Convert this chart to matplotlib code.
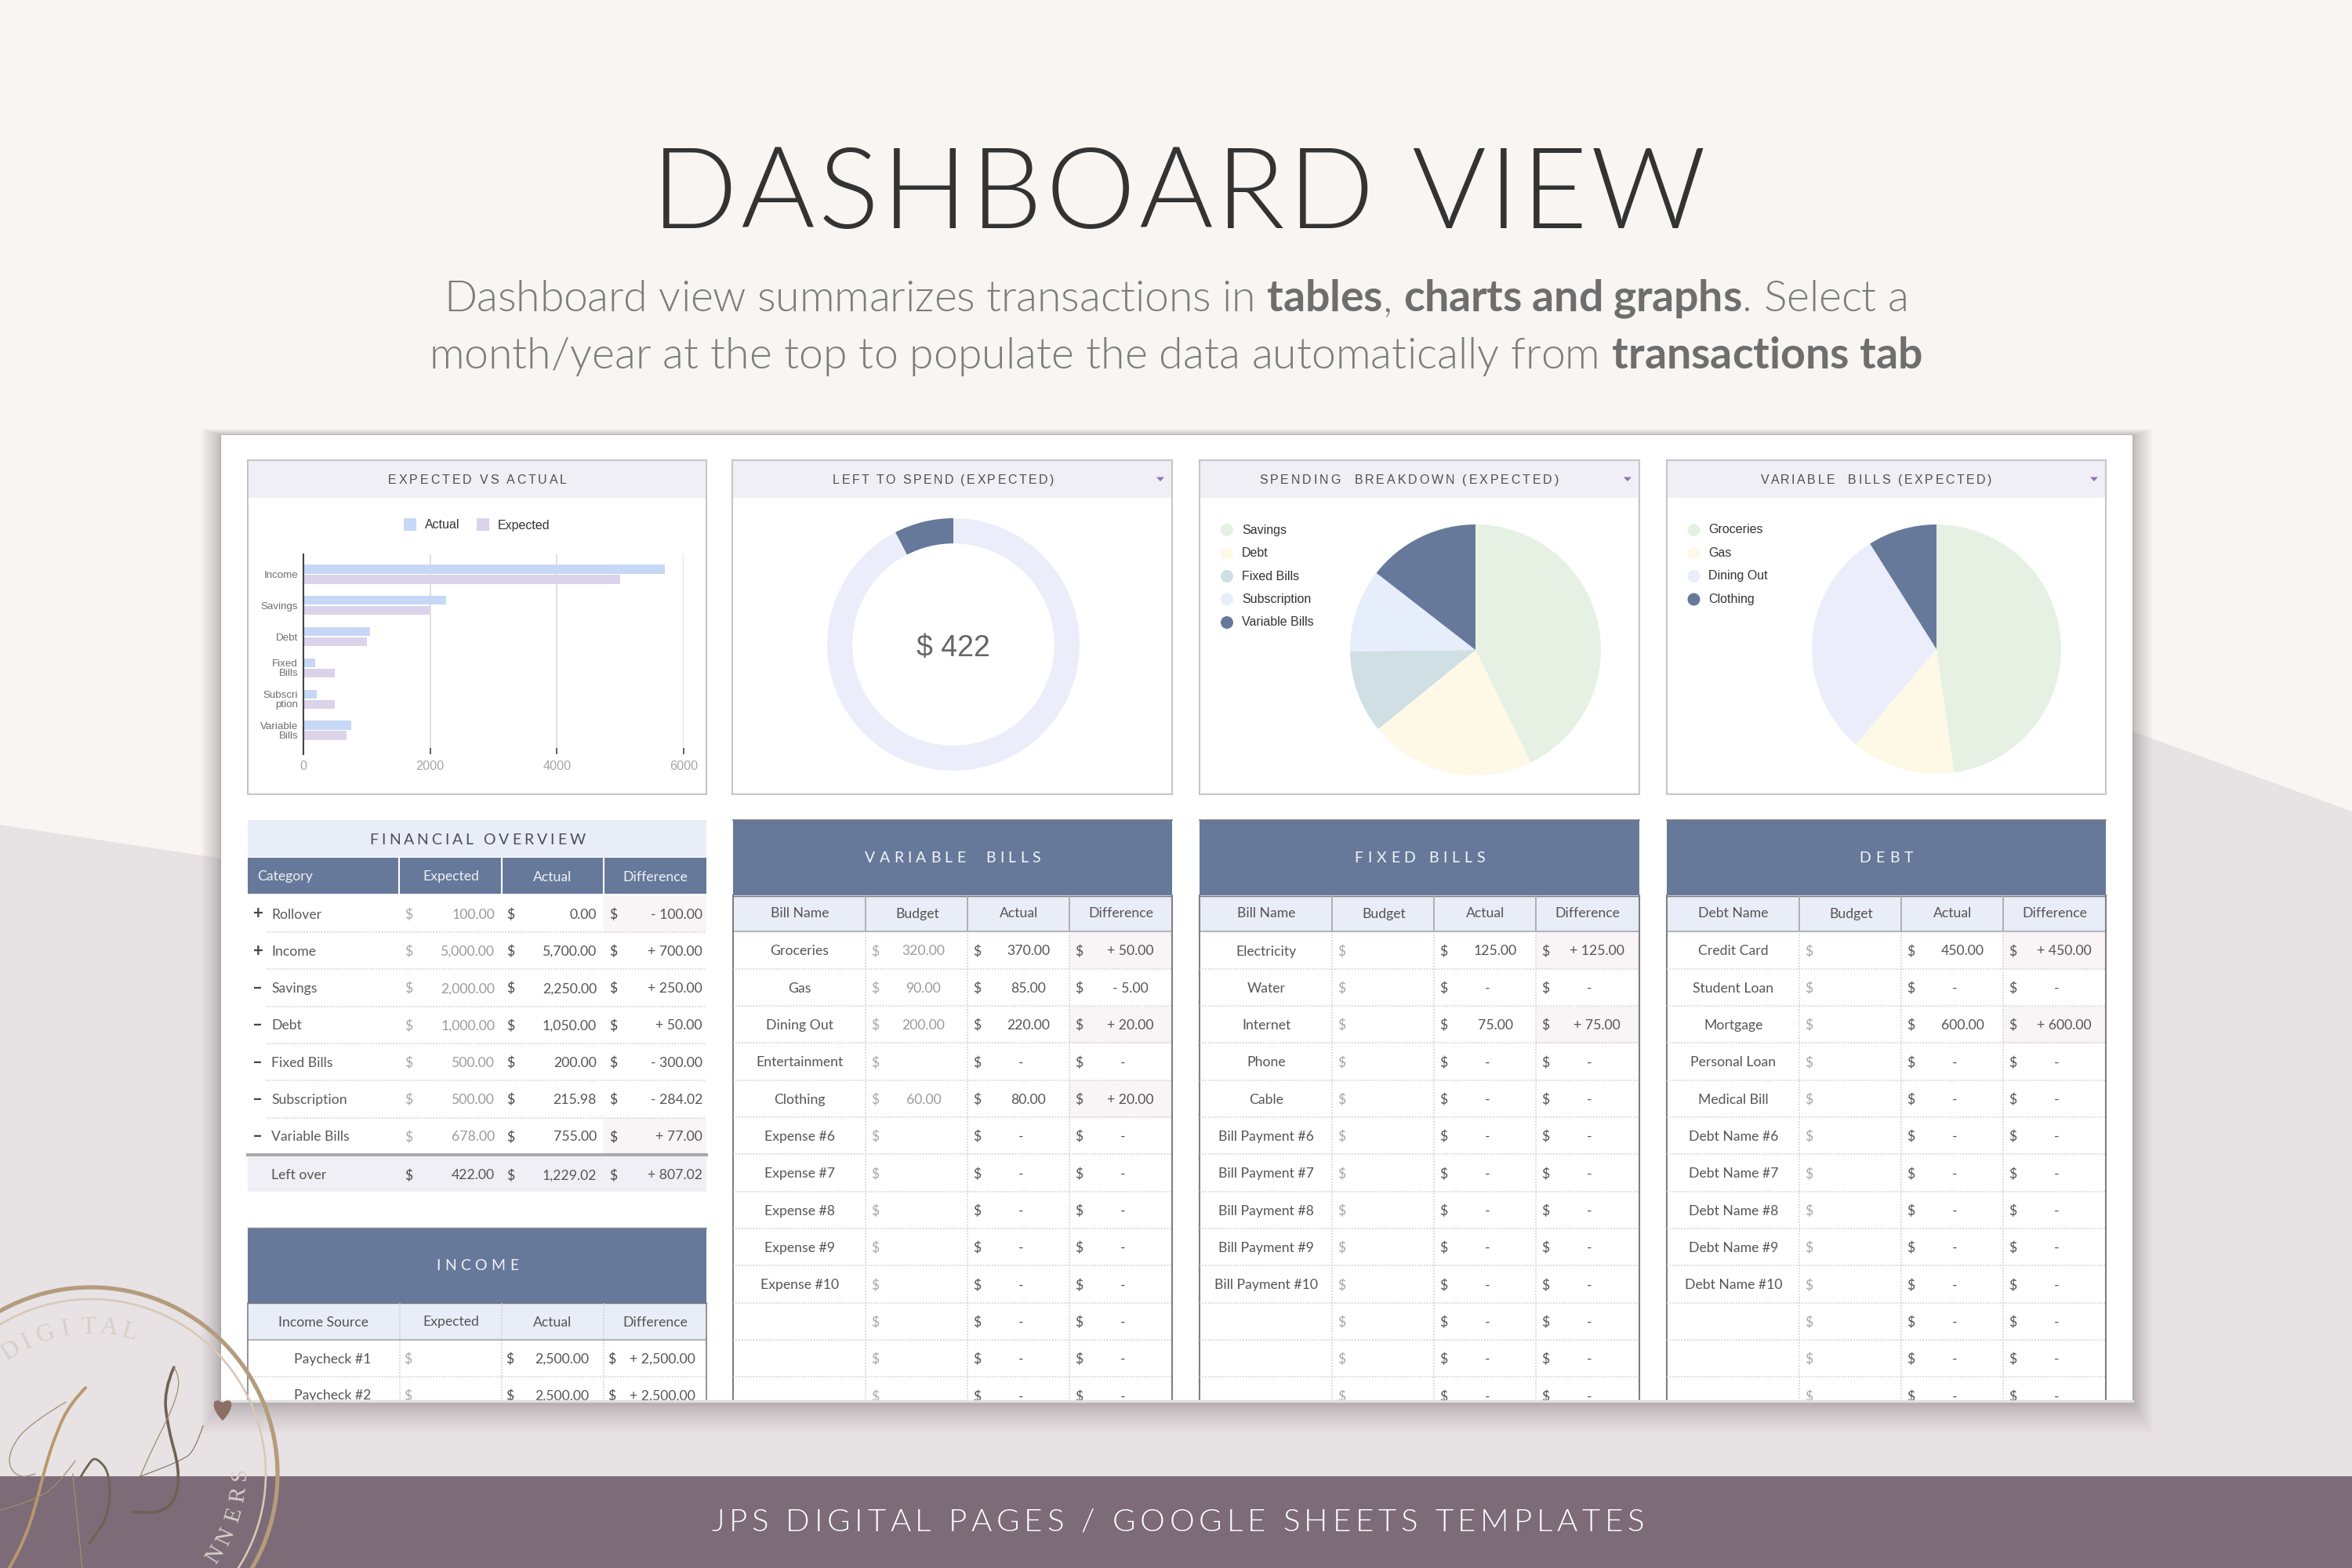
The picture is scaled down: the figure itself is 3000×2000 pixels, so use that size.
import numpy as np
import matplotlib
matplotlib.use("Agg")
import matplotlib.pyplot as plt
from matplotlib.patches import Rectangle, Polygon, Circle, PathPatch
from matplotlib.path import Path
from matplotlib.text import Text
from matplotlib.transforms import IdentityTransform, Bbox
from matplotlib.font_manager import FontProperties

# ---------- data ----------
BAR_CATEGORIES = ["Income", "Savings", "Debt", "Fixed\nBills", "Subscri\nption", "Variable\nBills"]
BAR_ACTUAL = [5700, 2250, 1050, 190, 215.98, 755]
BAR_EXPECTED = [5000, 2000, 1000, 500, 500, 678]
BAR_TICKS = [0, 2000, 4000, 6000]

DONUT_VALUES = [422, 5130]
SPEND_LABELS = ["Savings", "Debt", "Fixed Bills", "Subscription", "Variable Bills"]
SPEND_VALUES = [2000, 1000, 500, 500, 678]
VAR_LABELS = ["Groceries", "Gas", "Dining Out", "Clothing"]
VAR_VALUES = [320, 90, 200, 60]

FO_SIGNS = ["+", "+", "–", "–", "–", "–", "–"]
FO_CATS = ["Rollover", "Income", "Savings", "Debt", "Fixed Bills", "Subscription", "Variable Bills"]
FO_EXPECTED = ["100.00", "5,000.00", "2,000.00", "1,000.00", "500.00", "500.00", "678.00"]
FO_ACTUAL = ["0.00", "5,700.00", "2,250.00", "1,050.00", "200.00", "215.98", "755.00"]
FO_DIFF = ["- 100.00", "+ 700.00", "+ 250.00", "+ 50.00", "- 300.00", "- 284.02", "+ 77.00"]
FO_PINK = [True, False, False, False, False, False, True]
FO_TOTAL = ["Left over", "422.00", "1,229.02", "+ 807.02"]

INC_NAMES = ["Paycheck #1", "Paycheck #2"]
INC_ACTUAL = ["2,500.00", "2,500.00"]
INC_DIFF = ["+ 2,500.00", "+ 2,500.00"]

VB_NAMES = ["Groceries", "Gas", "Dining Out", "Entertainment", "Clothing", "Expense #6", "Expense #7",
            "Expense #8", "Expense #9", "Expense #10", "", "", ""]
VB_BUDGET = ["320.00", "90.00", "200.00", "", "60.00", "", "", "", "", "", "", "", ""]
VB_ACTUAL = ["370.00", "85.00", "220.00", "-", "80.00", "-", "-", "-", "-", "-", "-", "-", "-"]
VB_DIFF = ["+ 50.00", "- 5.00", "+ 20.00", "-", "+ 20.00", "-", "-", "-", "-", "-", "-", "-", "-"]

FB_NAMES = ["Electricity", "Water", "Internet", "Phone", "Cable", "Bill Payment #6", "Bill Payment #7",
            "Bill Payment #8", "Bill Payment #9", "Bill Payment #10", "", "", ""]
FB_BUDGET = [""] * 13
FB_ACTUAL = ["125.00", "-", "75.00", "-", "-", "-", "-", "-", "-", "-", "-", "-", "-"]
FB_DIFF = ["+ 125.00", "-", "+ 75.00", "-", "-", "-", "-", "-", "-", "-", "-", "-", "-"]

DB_NAMES = ["Credit Card", "Student Loan", "Mortgage", "Personal Loan", "Medical Bill", "Debt Name #6",
            "Debt Name #7", "Debt Name #8", "Debt Name #9", "Debt Name #10", "", "", ""]
DB_BUDGET = [""] * 13
DB_ACTUAL = ["450.00", "-", "600.00", "-", "-", "-", "-", "-", "-", "-", "-", "-", "-"]
DB_DIFF = ["+ 450.00", "-", "+ 600.00", "-", "-", "-", "-", "-", "-", "-", "-", "-", "-"]

# ---------- style ----------
UI = "Lato"
ARIAL = "Liberation Sans"
NAVY = "#67799a"
PANEL_HEAD = "#f0eff6"
LIGHT_HEAD = "#e9edf8"
PINK = "#f9f4f5"
GREEN, CREAM, TEAL, ICE, LILAC = "#e6f1e4", "#fef9e6", "#cfdfe3", "#e7eefb", "#ebeefa"

plt.rcParams["font.family"] = [UI, "DejaVu Sans"]
W, H = 3000, 2000
fig = plt.figure(figsize=(30, 20), dpi=100, facecolor="#f8f5f2")


class Tracked(Text):
    """Text drawn with letter spacing so that it fills a given width."""

    def __init__(self, x, y, s, width, anchor="center", **kw):
        super().__init__(x, y, s, **kw)
        self._target = width
        self._anchor = anchor

    def _origin(self, renderer):
        fp = self.get_fontproperties()
        s = self.get_text()
        mw = lambda t: renderer.get_text_width_height_descent(t, fp, False)[0]
        bar = mw("|")
        pref = [mw(s[:i] + "|") - bar if i else 0 for i in range(len(s))]
        full = mw(s + "|") - bar
        track = (self._target - full) / max(1, len(s) - 1)
        px, py = self.get_transform().transform(self.get_unitless_position())
        if self._anchor == "center":
            px -= self._target / 2
        return px, py, pref, track

    def draw(self, renderer):
        px, py, pref, track = self._origin(renderer)
        for i, ch in enumerate(self.get_text()):
            if ch == " ":
                continue
            t = Text(px + pref[i] + i * track, py, ch, fontproperties=self.get_fontproperties(),
                     color=self.get_color(), ha="left", va="baseline",
                     transform=IdentityTransform())
            t.set_figure(self.figure)
            t.draw(renderer)

    def get_window_extent(self, renderer=None, dpi=None):
        box = super().get_window_extent(renderer, dpi)
        renderer = renderer or self.figure.canvas.get_renderer()
        px, py, _, _ = self._origin(renderer)
        return Bbox([[px, box.y0], [px + self._target, box.y1]])


def pxaxes(x0, y0, x1, y1, z=2):
    a = fig.add_axes([x0 / W, 1 - y1 / H, (x1 - x0) / W, (y1 - y0) / H], zorder=z)
    a.patch.set_alpha(0)
    return a


bg = fig.add_axes([0, 0, 1, 1], zorder=0)
bg.set_xlim(0, W)
bg.set_ylim(H, 0)
bg.axis("off")


def rect(x0, y0, x1, y1, color, z=1, **kw):
    r = Rectangle((x0, y0), x1 - x0, y1 - y0, facecolor=color, edgecolor="none", zorder=z, **kw)
    bg.add_patch(r)
    return r


def tracked(x, y, s, width, size, color, family=UI, weight="normal", anchor="center", z=6):
    t = Tracked(x, y, s, width, anchor=anchor, color=color, va="baseline",
                fontproperties=FontProperties(family=family, weight=weight, size=size),
                transform=bg.transData, zorder=z)
    bg.add_artist(t)
    return t


# ---------- background ----------
bg.add_patch(Polygon([(0, 1052), (282, 1095), (1500, 780), (2720, 933), (3000, 1035), (3000, 2000), (0, 2000)],
                     facecolor="#e7e2e4", edgecolor="none", zorder=0.5))
rect(0, 1883, W, H, "#7d6b77", z=0.6)

NSH = 32
for i in range(NSH):
    t = (1 - i / NSH) ** 1.9
    bg.add_patch(Rectangle((282 - 26 * t, 555 - 8 * t), 2438 + 52 * t, 1233 + 8 * t + 40 * t,
                           facecolor="#3a3438", edgecolor="none", alpha=0.012, zorder=0.8))
card = rect(282, 555, 2720, 1788, "white", z=1)
bg.plot([282, 2720], [1787, 1787], color="#e0e0e0", lw=2.5, zorder=5)

tracked(1503, 291, "DASHBOARD VIEW", 1345, 104, "#333333", weight=300)


def mixed_line(segs, x0, x1, y, size):
    rend = fig.canvas.get_renderer()
    widths = []
    for s, bold in segs:
        fp = FontProperties(family=UI, weight=700 if bold else 300, size=size)
        m = lambda t: rend.get_text_width_height_descent(t, fp, False)[0]
        widths.append(m(s + "|") - m("|"))
    n = sum(len(s) for s, _ in segs)
    track = ((x1 - x0) - sum(widths)) / n
    x = x0
    for (s, bold), w in zip(segs, widths):
        tw = w + track * len(s)
        tracked(x, y, s, tw, size, "#6e6e6e" if bold else "#7c7c7c", weight=700 if bold else 300, anchor="left")
        x += tw


mixed_line([("Dashboard view summarizes transactions in ", False), ("tables", True), (", ", False),
            ("charts and graphs", True), (". Select a", False)], 566, 2434, 397, 40)
mixed_line([("month/year at the top to populate the data automatically from ", False),
            ("transactions tab", True)], 547, 2452, 470, 40)

tracked(1502, 1953, "JPS DIGITAL PAGES / GOOGLE SHEETS TEMPLATES", 1190, 29, "#ffffff", weight=300)


# ---------- chart panels ----------
def panel(x0, x1, title, tw, tx, arrow=True):
    rect(x0, 587, x1, 635, PANEL_HEAD, z=1.2)
    bg.add_patch(Rectangle((x0, 587), x1 - x0, 426, facecolor="none", edgecolor="#c6c6c6", lw=1.5, zorder=1.5))
    tracked(tx, 617, title, tw, 11.5, "#4e4e52", family=ARIAL)
    if arrow:
        ax_, ay_ = x1 - 15, 611
        bg.add_patch(Polygon([(ax_ - 5, ay_ - 2.5), (ax_ + 5, ay_ - 2.5), (ax_, ay_ + 3)], facecolor="#8a75b0",
                             edgecolor="none", zorder=2))


panel(316, 901, "EXPECTED VS ACTUAL", 228, 609, arrow=False)
panel(934, 1495, "LEFT TO SPEND (EXPECTED)", 282, 1203)
panel(1530, 2091, "SPENDING  BREAKDOWN (EXPECTED)", 382, 1797)
panel(2126, 2686, "VARIABLE  BILLS (EXPECTED)", 295, 2393)

# bar chart
bax = pxaxes(387, 707, 872, 962)
ypos = np.arange(len(BAR_CATEGORIES))
bax.barh(ypos - 0.163, BAR_ACTUAL, height=0.28, color="#c6d8f6", zorder=2)
bax.barh(ypos + 0.163, BAR_EXPECTED, height=0.28, color="#dbd3e9", zorder=2)
bax.set_xlim(0, 6000)
bax.set_ylim((962 - 732.5) / 39.8, (707 - 732.5) / 39.8)
bax.set_xticks(BAR_TICKS)
bax.set_yticks(ypos, BAR_CATEGORIES, family=ARIAL, fontsize=9.6, color="#6e6e6e", linespacing=1.0)
bax.grid(axis="x", color="#dedede", lw=1.3, zorder=1)
bax.tick_params(axis="x", direction="in", length=6, width=1.3, color="#555555", labelsize=11.7,
                labelcolor="#a6a6a6", pad=6)
bax.tick_params(axis="y", direction="out", length=0, pad=5)
for lab in bax.get_xticklabels():
    lab.set_family(ARIAL)
for sp in ["top", "right", "bottom"]:
    bax.spines[sp].set_visible(False)
bax.spines["left"].set_color("#454545")
bax.spines["left"].set_linewidth(1.5)

for sx, tx_, lab, col in [(515, 542, "Actual", "#c6d8f6"), (608, 635, "Expected", "#dbd3e9")]:
    rect(sx, 661, sx + 16, 677, col, z=2)
    bg.text(tx_, 670, lab, family=ARIAL, fontsize=11.5, color="#333333", ha="left", va="center", zorder=3)

# donut
dax = pxaxes(1216 - 161, 822 - 161, 1216 + 161, 822 + 161)
dax.pie(DONUT_VALUES, colors=[NAVY, LILAC], startangle=90, counterclock=True, radius=1,
        wedgeprops=dict(width=0.2, linewidth=0))
dax.set_xlim(-1, 1)
dax.set_ylim(-1, 1)
bg.text(1216, 827, "$ 422", family=ARIAL, fontsize=27, color="#666666", ha="center", va="center", zorder=3)

# spending pie
sax = pxaxes(1882 - 160, 829 - 160, 1882 + 160, 829 + 160)
sax.pie(SPEND_VALUES, colors=[GREEN, CREAM, TEAL, ICE, NAVY], startangle=90, counterclock=False, radius=1,
        wedgeprops=dict(linewidth=0))
sax.set_xlim(-1, 1)
sax.set_ylim(-1, 1)

# variable pie
vax = pxaxes(2470 - 159, 828 - 159, 2470 + 159, 828 + 159)
vax.pie(VAR_VALUES, colors=[GREEN, CREAM, LILAC, NAVY], startangle=90, counterclock=False, radius=1,
        wedgeprops=dict(linewidth=0))
vax.set_xlim(-1, 1)
vax.set_ylim(-1, 1)


def pie_legend(cx, tx_, labels, colors):
    for i, (lab, col) in enumerate(zip(labels, colors)):
        y = 676 + i * 29.5
        bg.add_patch(Circle((cx, y), 8, facecolor=col, edgecolor="none", zorder=3))
        bg.text(tx_, y, lab, family=ARIAL, fontsize=11.5, color="#333333", ha="left", va="center", zorder=3)


pie_legend(1565, 1584, SPEND_LABELS, [GREEN, CREAM, TEAL, ICE, NAVY])
pie_legend(2160.5, 2179, VAR_LABELS, [GREEN, CREAM, LILAC, NAVY])

# ---------- tables ----------
RH = 47.33
FS = 12.7


def tx(x, y, s, color, ha="center", size=FS, weight="normal"):
    t = bg.text(x, y, s, fontsize=size, color=color, ha=ha, va="center_baseline", zorder=4, weight=weight)
    t.set_clip_path(card)
    return t


def hdots(x0, x1, y, color="#c9c9c9"):
    bg.plot([x0, x1], [y, y], color=color, lw=1.1, ls=(0, (1, 1.4)), zorder=3, solid_capstyle="butt")


def vdots(x, y0, y1):
    bg.plot([x, x], [y0, min(y1, 1785)], color="#c9c9c9", lw=1.1, ls=(0, (1, 1.4)), zorder=3)


def bill_table(x0, x1, title, tw, head0, names, budget, actual, diff):
    c = [x0 + 169, x0 + 299, x0 + 429]
    rect(x0, 1046, x1, 1142, NAVY, z=2)
    rect(x0, 1142, x1, 1188, LIGHT_HEAD, z=2)
    bg.plot([x0, x1], [1046, 1046], color="#777777", lw=1.2, zorder=3)
    bg.plot([x0, x1], [1142.5, 1142.5], color="#777777", lw=1.0, zorder=3)
    bg.plot([x0, x1], [1188, 1188], color="#b5b5b5", lw=1.5, zorder=3)
    for cx in c:
        bg.plot([cx, cx], [1142, 1188], color="#aaaaaa", lw=1.3, zorder=3)
        vdots(cx, 1188, 1786)
    bg.plot([x0, x0], [1142, 1785], color="#808080", lw=1.5, zorder=3)
    bg.plot([x1, x1], [1142, 1785], color="#808080", lw=1.5, zorder=3)
    tracked((x0 + x1) / 2, 1100, title, tw, 14, "#f2f3f8")
    for s, cx in zip([head0, "Budget", "Actual", "Difference"], [x0 + 85, c[0] + 66, c[1] + 66, c[2] + 66]):
        tx(cx, 1164, s, "#555555")
    for k in range(13):
        top = 1189 + k * RH
        y = top + 23
        if diff[k].startswith("+"):
            rect(c[2], top, x1, top + RH, PINK, z=2)
        if k < 12:
            hdots(x0, x1, top + RH - 0.5)
        if names[k]:
            tx(x0 + 85, y, names[k], "#565656")
        tx(c[0] + 12, y, "$", "#a8a8a8")
        if budget[k]:
            tx(c[0] + 74, y, budget[k], "#9b9b9b")
        tx(c[1] + 12, y, "$", "#555555")
        tx(c[2] + 12, y, "$", "#555555")
        for cx, v in [(c[1], actual[k]), (c[2], diff[k])]:
            if v == "-":
                tx(cx + 68, y, "-", "#555555")
            else:
                tx(cx + 78, y, v, "#555555")


bill_table(935, 1495, "VARIABLE  BILLS", 224, "Bill Name", VB_NAMES, VB_BUDGET, VB_ACTUAL, VB_DIFF)
bill_table(1530, 2091, "FIXED BILLS", 166, "Bill Name", FB_NAMES, FB_BUDGET, FB_ACTUAL, FB_DIFF)
bill_table(2126, 2686, "DEBT", 69, "Debt Name", DB_NAMES, DB_BUDGET, DB_ACTUAL, DB_DIFF)

# financial overview
FC = [509, 640, 770]
rect(316, 1046, 901, 1093, LIGHT_HEAD, z=2)
tracked(609, 1077, "FINANCIAL OVERVIEW", 275, 14, "#4d4f55")
rect(316, 1094, 901, 1140, NAVY, z=2)
for cx in FC:
    bg.plot([cx, cx], [1094, 1140], color="white", lw=1.5, zorder=3)
tx(328.5, 1117, "Category", "#eef0f6", ha="left")
for s, cx in zip(["Expected", "Actual", "Difference"], [575, 705, 835.5]):
    tx(cx, 1117, s, "#eef0f6")
for k in range(7):
    y = 1165 + k * RH
    if FO_PINK[k]:
        rect(770, y - 23, 901, y + 24, PINK, z=2)
    if k < 6:
        hdots(340, 900, y + 24)
    tx(329, y - 1, FO_SIGNS[k], "#444444", weight="bold", size=16)
    tx(346, y, FO_CATS[k], "#5a5a5a", ha="left")
    tx(521, y, "$", "#a8a8a8")
    tx(631, y, FO_EXPECTED[k], "#9b9b9b", ha="right")
    tx(651, y, "$", "#4a4a4a")
    tx(761, y, FO_ACTUAL[k], "#555555", ha="right")
    tx(782, y, "$", "#4a4a4a")
    tx(896, y, FO_DIFF[k], "#555555", ha="right")
rect(316, 1476, 901, 1520, PANEL_HEAD, z=2)
bg.plot([316, 901], [1473, 1473], color="#a9a9ae", lw=3, zorder=3)
yt = 1498
tx(346, yt, FO_TOTAL[0], "#555555", ha="left")
tx(521, yt, "$", "#4a4a4a")
tx(631, yt, FO_TOTAL[1], "#555555", ha="right")
tx(651, yt, "$", "#4a4a4a")
tx(761, yt, FO_TOTAL[2], "#555555", ha="right")
tx(782, yt, "$", "#4a4a4a")
tx(896, yt, FO_TOTAL[3], "#555555", ha="right")

# income
IC = [510, 640, 770]
rect(316, 1566, 901, 1662, NAVY, z=2)
rect(316, 1662, 901, 1709, LIGHT_HEAD, z=2)
bg.plot([316, 901], [1566, 1566], color="#8a8a8a", lw=1.0, zorder=3)
bg.plot([316, 901], [1662, 1662], color="#777777", lw=1.0, zorder=3)
bg.plot([316, 901], [1709, 1709], color="#b5b5b5", lw=1.5, zorder=3)
bg.plot([316, 316], [1662, 1785], color="#808080", lw=1.2, zorder=3)
bg.plot([901, 901], [1662, 1785], color="#808080", lw=1.2, zorder=3)
for cx in IC:
    vdots(cx, 1662, 1786)
tracked(608.5, 1620, "INCOME", 105, 14, "#f2f3f8")
for s, cx in zip(["Income Source", "Expected", "Actual", "Difference"], [412.5, 575, 705, 835.5]):
    tx(cx, 1685, s, "#555555")
for k in range(2):
    y = 1732 + k * 47
    if k == 0:
        hdots(318, 900, y + 24)
    tx(424, y, INC_NAMES[k], "#565656")
    tx(520, y, "$", "#a8a8a8")
    tx(650, y, "$", "#4a4a4a")
    tx(751, y, INC_ACTUAL[k], "#555555", ha="right")
    tx(780, y, "$", "#4a4a4a")
    tx(887, y, INC_DIFF[k], "#555555", ha="right")

# ---------- logo ----------
lg = fig.add_axes([0, 0, 1, 1], zorder=8)
lg.set_xlim(0, W)
lg.set_ylim(H, 0)
lg.axis("off")
cx, cy = 116, 1880
lg.add_patch(Circle((cx, cy), 238, facecolor="none", edgecolor="#b49c7c", lw=3.8))
lg.add_patch(Circle((cx, cy), 223, facecolor="none", edgecolor="#d8c8b8", lw=1.9))
for ch, th in zip("DIGITAL", [-33, -26, -18, -10, -1, 7, 15]):
    a = np.radians(th)
    lg.text(cx + 187 * np.sin(a), cy - 187 * np.cos(a), ch, family="Liberation Serif", fontsize=23,
            color="#d8cec9", rotation=-th, ha="center", va="center", rotation_mode="anchor")
for ch, th in zip("NNERS", [123, 115, 106, 98, 90]):
    a = np.radians(th)
    lg.text(cx + 190 * np.sin(a), cy - 190 * np.cos(a), ch, family="Liberation Serif", fontsize=21,
            color="#d9cfca", rotation=180 - th, ha="center", va="center", rotation_mode="anchor")


def stroke(zx, zy, color, lw):
    xs = np.asarray(zx) / 1.668
    ys = 1540 + np.asarray(zy) / 3
    verts = [(xs[0], ys[0])]
    codes = [Path.MOVETO]
    for i in range(1, len(xs) - 1):
        verts += [(xs[i], ys[i]), ((xs[i] + xs[i + 1]) / 2, (ys[i] + ys[i + 1]) / 2)]
        codes += [Path.CURVE3, Path.CURVE3]
    verts.append((xs[-1], ys[-1]))
    codes.append(Path.LINETO)
    lg.add_patch(PathPatch(Path(verts, codes), facecolor="none", edgecolor=color, lw=lw, capstyle="round"))


GOLD, MOCHA, SOFT = "#b8986c", "#6e6253", "#a08c72"
stroke([182, 150, 120, 95, 75, 50, 20], [690, 750, 860, 1000, 1150, 1280, 1380], GOLD, 2.8)
stroke([140, 60, 20, 20, 45, 75], [745, 830, 930, 1000, 1035, 1020], SOFT, 0.9)
stroke([160, 120, 70, 0], [970, 1070, 1120, 1160], SOFT, 0.9)
stroke([155, 165, 175], [1020, 1200, 1380], SOFT, 1.0)
stroke([172, 190, 205, 235, 232, 190], [1030, 975, 955, 1020, 1180, 1285], MOCHA, 2.0)
stroke([370, 348, 358, 382, 375, 340, 285], [612, 700, 850, 1000, 1120, 1170, 1165], MOCHA, 2.6)
stroke([370, 385, 370, 325, 298], [612, 650, 760, 920, 1030], SOFT, 0.9)
stroke([432, 415, 385, 298], [835, 930, 970, 1030], MOCHA, 0.7)

hx, hy = 284, 1797
heart = Path([(hx, hy + 15), (hx - 17, hy - 2), (hx - 13, hy - 17), (hx, hy - 8),
              (hx + 13, hy - 17), (hx + 17, hy - 2), (hx, hy + 15), (hx, hy + 15)],
             [Path.MOVETO, Path.CURVE4, Path.CURVE4, Path.CURVE4, Path.CURVE4, Path.CURVE4, Path.CURVE4,
              Path.CLOSEPOLY])
lg.add_patch(PathPatch(heart, facecolor="#8c6f64", edgecolor="none"))

fig.savefig("out.png", dpi=100, facecolor=fig.get_facecolor())
